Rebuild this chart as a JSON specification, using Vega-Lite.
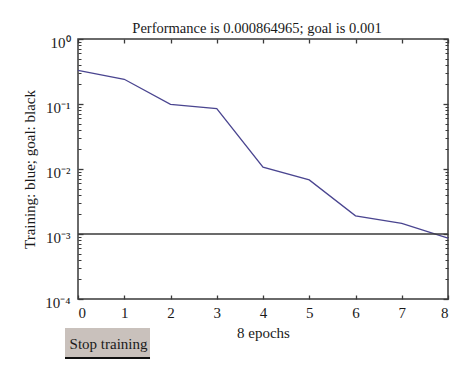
{
  "$schema": "https://vega.github.io/schema/vega-lite/v6.json",
  "autosize": {"type": "none"},
  "width": 370,
  "height": 260,
  "padding": {"left": 78, "top": 39, "right": 26, "bottom": 83},
  "background": "white",
  "config": {
    "view": {"stroke": "#3a3a3a", "strokeWidth": 1.5},
    "font": "Liberation Serif",
    "axis": {
      "grid": false,
      "domain": false,
      "tickColor": "#3a3a3a",
      "tickWidth": 1.3,
      "labelFont": "Liberation Serif",
      "titleFont": "Liberation Serif",
      "labelColor": "#1a1a1a",
      "titleColor": "#1a1a1a",
      "labelFontSize": 15,
      "titleFontSize": 15,
      "titleFontWeight": "normal"
    }
  },
  "title": {
    "text": "Performance is 0.000864965; goal is 0.001",
    "font": "Liberation Serif",
    "fontSize": 14.5,
    "fontWeight": "normal",
    "color": "#1a1a1a",
    "offset": -1,
    "dx": -6
  },
  "datasets": {
    "training": [
      {"epoch": 0, "perf": 0.33},
      {"epoch": 1, "perf": 0.24},
      {"epoch": 2, "perf": 0.099},
      {"epoch": 3, "perf": 0.085},
      {"epoch": 4, "perf": 0.0107},
      {"epoch": 5, "perf": 0.0068},
      {"epoch": 6, "perf": 0.0019},
      {"epoch": 7, "perf": 0.00146},
      {"epoch": 8, "perf": 0.000865}
    ],
    "goal": [{"goal": 0.001}],
    "button": [{"label": "Stop training"}]
  },
  "resolve": {"axis": {"x": "independent", "y": "independent"}},
  "layer": [
    {
      "data": {"name": "training"},
      "mark": {"type": "line", "color": "#4a4590", "strokeWidth": 1.3, "clip": false},
      "encoding": {
        "x": {
          "field": "epoch",
          "type": "quantitative",
          "scale": {"domain": [0, 8], "nice": false, "zero": false},
          "axis": {
            "orient": "bottom",
            "values": [0, 1, 2, 3, 4, 5, 6, 7, 8],
            "format": "d",
            "tickSize": -4,
            "labelAngle": 0,
            "labelPadding": 10,
            "title": "8 epochs",
            "titlePadding": 5
          }
        },
        "y": {
          "field": "perf",
          "type": "quantitative",
          "scale": {"type": "log", "domain": [0.0001, 1], "nice": false},
          "axis": {
            "orient": "left",
            "values": [0.0001, 0.001, 0.01, 0.1, 1],
            "tickSize": -5,
            "labelPadding": 13,
            "labelOffset": 3,
            "labelExpr": "'10' + (round(log(datum.value)/LN10) == 0 ? '⁰' : round(log(datum.value)/LN10) == -1 ? '⁻¹' : round(log(datum.value)/LN10) == -2 ? '⁻²' : round(log(datum.value)/LN10) == -3 ? '⁻³' : '⁻⁴')",
            "title": "Training: blue; goal: black",
            "titlePadding": 7
          }
        }
      }
    },
    {
      "data": {"name": "goal"},
      "mark": {"type": "rule", "color": "#3a3a3a", "strokeWidth": 1.3},
      "encoding": {
        "y": {"field": "goal", "type": "quantitative", "axis": null}
      }
    },
    {
      "data": {"name": "training"},
      "mark": {"type": "point", "opacity": 0},
      "encoding": {
        "x": {
          "field": "epoch",
          "type": "quantitative",
          "axis": {"orient": "top", "values": [0, 1, 2, 3, 4, 5, 6, 7, 8], "labels": false, "tickSize": -4, "title": null}
        },
        "y": {
          "field": "perf",
          "type": "quantitative",
          "axis": {"orient": "right", "values": [0.0001, 0.001, 0.01, 0.1, 1], "labels": false, "tickSize": -5, "title": null}
        }
      }
    },
    {
      "data": {"name": "training"},
      "mark": {"type": "point", "opacity": 0},
      "encoding": {
        "x": {"field": "epoch", "type": "quantitative", "axis": null},
        "y": {
          "field": "perf",
          "type": "quantitative",
          "axis": {
            "orient": "left",
            "values": [0.0002, 0.0003, 0.0004, 0.0005, 0.0006, 0.0007, 0.0008, 0.0009, 0.002, 0.003, 0.004, 0.005, 0.006, 0.007, 0.008, 0.009, 0.02, 0.03, 0.04, 0.05, 0.06, 0.07, 0.08, 0.09, 0.2, 0.3, 0.4, 0.5, 0.6, 0.7, 0.8, 0.9],
            "labels": false,
            "tickSize": -3,
            "tickWidth": 1,
            "title": null
          }
        }
      }
    },
    {
      "data": {"name": "training"},
      "mark": {"type": "point", "opacity": 0},
      "encoding": {
        "x": {"field": "epoch", "type": "quantitative", "axis": null},
        "y": {
          "field": "perf",
          "type": "quantitative",
          "axis": {
            "orient": "right",
            "values": [0.0002, 0.0003, 0.0004, 0.0005, 0.0006, 0.0007, 0.0008, 0.0009, 0.002, 0.003, 0.004, 0.005, 0.006, 0.007, 0.008, 0.009, 0.02, 0.03, 0.04, 0.05, 0.06, 0.07, 0.08, 0.09, 0.2, 0.3, 0.4, 0.5, 0.6, 0.7, 0.8, 0.9],
            "labels": false,
            "tickSize": -3,
            "tickWidth": 1,
            "title": null
          }
        }
      }
    },
    {
      "data": {"name": "button"},
      "mark": {"type": "rect", "fill": "#c9c1bc", "clip": false},
      "encoding": {
        "x": {"datum": -0.281, "type": "quantitative", "axis": null},
        "x2": {"datum": 1.557},
        "y": {"datum": 0.0000358, "type": "quantitative", "axis": null},
        "y2": {"datum": 0.00001236}
      }
    },
    {
      "data": {"name": "button"},
      "mark": {"type": "rule", "color": "#111111", "strokeWidth": 2, "clip": false},
      "encoding": {
        "x": {"datum": -0.281, "type": "quantitative", "axis": null},
        "x2": {"datum": 1.557},
        "y": {"datum": 0.00001236, "type": "quantitative", "axis": null}
      }
    },
    {
      "data": {"name": "button"},
      "mark": {"type": "text", "fontSize": 15, "font": "Liberation Serif", "color": "#1a1a1a", "baseline": "middle", "align": "center", "clip": false},
      "encoding": {
        "x": {"datum": 0.66, "type": "quantitative", "axis": null},
        "y": {"datum": 0.0000205, "type": "quantitative", "axis": null},
        "text": {"field": "label", "type": "nominal"}
      }
    }
  ]
}
